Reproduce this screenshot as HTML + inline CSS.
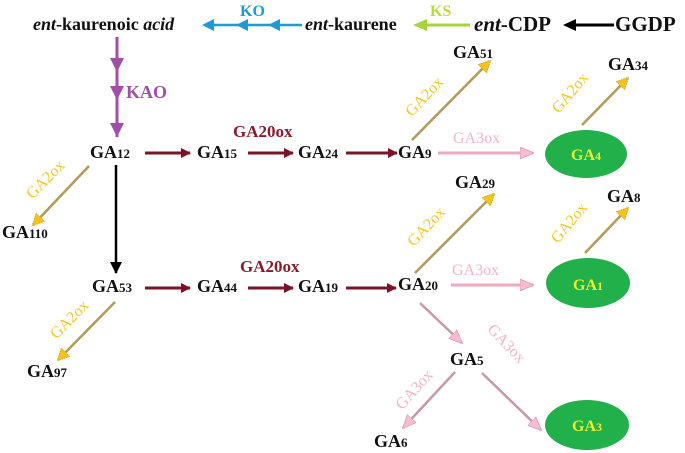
<!DOCTYPE html>
<html><head><meta charset="utf-8"><style>
html,body{margin:0;padding:0;background:#fff;}
svg{display:block;font-family:"Liberation Serif","DejaVu Serif",serif;}
svg text{font-family:"Liberation Serif","DejaVu Serif",serif;}
.n{font-weight:bold;font-size:18px;fill:#111;}
.s{font-size:13px;}
.y{fill:#f6c623;font-size:16px;}
.p{fill:#f5b4c8;font-size:16px;}
.r{fill:#8b1a2b;font-weight:bold;font-size:17px;}
</style></head><body>
<svg width="685" height="453" viewBox="0 0 685 453" xmlns="http://www.w3.org/2000/svg" font-family="Liberation Serif, serif">
<defs>
<marker id="red" markerWidth="10" markerHeight="10" refX="9" refY="5" orient="auto" markerUnits="userSpaceOnUse"><polygon points="0,0 10,5 0,10" fill="#7d1326"/></marker>
<marker id="blk" markerWidth="12" markerHeight="12" refX="11" refY="6" orient="auto" markerUnits="userSpaceOnUse"><polygon points="0,0 12,6 0,12" fill="#000"/></marker>
<marker id="yel" markerWidth="12" markerHeight="12" refX="11" refY="6" orient="auto" markerUnits="userSpaceOnUse"><polygon points="0,0 12,6 0,12" fill="#f7c21c" stroke="#c99a10" stroke-width="0.8" stroke-dasharray="1.5,1"/></marker>
<marker id="pnk" markerWidth="14" markerHeight="12" refX="13" refY="6" orient="auto" markerUnits="userSpaceOnUse"><polygon points="0,0 14,6 0,12" fill="#f7bccd" stroke="#d88aa2" stroke-width="0.6"/></marker>
</defs>

<!-- top row -->
<text x="33" y="30" class="n" font-family="Liberation Serif, serif"><tspan font-style="italic">ent</tspan>-kaurenoic <tspan font-style="italic">acid</tspan></text>
<text x="240" y="16" fill="#1e9ad8" font-weight="bold" font-size="16">KO</text>
<line x1="302" y1="25" x2="206" y2="25" stroke="#1e9ad8" stroke-width="2.5"/>
<polygon points="202,25 214,19 214,31" fill="#1e9ad8"/>
<polygon points="236,25 248,19 248,31" fill="#1e9ad8"/>
<polygon points="268,25 280,19 280,31" fill="#1e9ad8"/>
<text x="305" y="30" class="n"><tspan font-style="italic">ent</tspan>-kaurene</text>
<text x="430" y="16" fill="#b5dc3c" font-weight="bold" font-size="16">KS</text>
<line x1="470" y1="25" x2="425" y2="25" stroke="#a7d43a" stroke-width="3"/>
<polygon points="413,25 427,19 427,31" fill="#a7d43a"/>
<text x="474" y="31" font-size="21" font-weight="bold" fill="#111"><tspan font-style="italic">ent</tspan>-CDP</text>
<line x1="614" y1="25" x2="574" y2="25" stroke="#000" stroke-width="3"/>
<polygon points="563,25 576,19 576,31" fill="#000"/>
<text x="615" y="31" font-size="21" font-weight="bold" fill="#111">GGDP</text>

<!-- KAO -->
<line x1="117" y1="37" x2="117" y2="137" stroke="#a04fa8" stroke-width="3"/>
<polygon points="110,58 124,58 117,72" fill="#a04fa8"/>
<polygon points="110,86 124,86 117,100" fill="#a04fa8"/>
<polygon points="110,123 124,123 117,137" fill="#a04fa8"/>
<text x="126" y="98" fill="#a04fa8" font-weight="bold" font-size="18">KAO</text>

<!-- row 1 -->
<text x="90" y="158" class="n">GA<tspan class="s">12</tspan></text>
<line x1="145" y1="153" x2="190" y2="153" stroke="#7d1326" stroke-width="3" marker-end="url(#red)"/>
<text x="197" y="158" class="n">GA<tspan class="s">15</tspan></text>
<text x="233" y="137" class="r">GA20ox</text>
<line x1="248" y1="153" x2="293" y2="153" stroke="#7d1326" stroke-width="3" marker-end="url(#red)"/>
<text x="298" y="158" class="n">GA<tspan class="s">24</tspan></text>
<line x1="346" y1="153" x2="397" y2="153" stroke="#7d1326" stroke-width="3" marker-end="url(#red)"/>
<text x="398" y="158" class="n">GA<tspan class="s">9</tspan></text>
<text x="453" y="143" class="p">GA3ox</text>
<line x1="438" y1="153" x2="533" y2="153" stroke="#f0a8bf" stroke-width="3" marker-end="url(#pnk)"/>
<ellipse cx="586" cy="154" rx="41" ry="24" fill="#22b04a"/>
<text x="586" y="160" text-anchor="middle" fill="#e8f030" font-weight="bold" font-size="16">GA<tspan font-size="12">4</tspan></text>

<line x1="412" y1="140" x2="490" y2="61" stroke="#b39a5a" stroke-width="2.5" marker-end="url(#yel)"/>
<text x="453" y="58" class="n">GA<tspan class="s">51</tspan></text>
<text x="428" y="100" class="y" text-anchor="middle" transform="rotate(-47 428 100)">GA2ox</text>
<line x1="582" y1="125" x2="628" y2="78" stroke="#b39a5a" stroke-width="2.5" marker-end="url(#yel)"/>
<text x="608" y="70" class="n">GA<tspan class="s">34</tspan></text>
<text x="574" y="96" class="y" text-anchor="middle" transform="rotate(-50 574 96)">GA2ox</text>

<line x1="89" y1="166" x2="33" y2="225" stroke="#b39a5a" stroke-width="2.5" marker-end="url(#yel)"/>
<text x="49" y="183" class="y" text-anchor="middle" transform="rotate(-45 49 183)">GA2ox</text>
<text x="2" y="238" class="n">GA<tspan class="s">110</tspan></text>

<line x1="116" y1="165" x2="116" y2="273" stroke="#000" stroke-width="2.5" marker-end="url(#blk)"/>

<!-- row 2 -->
<text x="92" y="292" class="n">GA<tspan class="s">53</tspan></text>
<line x1="145" y1="288" x2="190" y2="288" stroke="#7d1326" stroke-width="3" marker-end="url(#red)"/>
<text x="197" y="292" class="n">GA<tspan class="s">44</tspan></text>
<text x="240" y="272" class="r">GA20ox</text>
<line x1="248" y1="288" x2="293" y2="288" stroke="#7d1326" stroke-width="3" marker-end="url(#red)"/>
<text x="298" y="292" class="n">GA<tspan class="s">19</tspan></text>
<line x1="346" y1="288" x2="396" y2="288" stroke="#7d1326" stroke-width="3" marker-end="url(#red)"/>
<text x="398" y="290" class="n">GA<tspan class="s">20</tspan></text>
<text x="452" y="275" class="p">GA3ox</text>
<line x1="451" y1="285" x2="533" y2="285" stroke="#f0a8bf" stroke-width="3" marker-end="url(#pnk)"/>
<ellipse cx="588" cy="283" rx="42" ry="25" fill="#22b04a"/>
<text x="588" y="290" text-anchor="middle" fill="#e8f030" font-weight="bold" font-size="16">GA<tspan font-size="12">1</tspan></text>

<line x1="415" y1="273" x2="494" y2="194" stroke="#b39a5a" stroke-width="2.5" marker-end="url(#yel)"/>
<text x="455" y="188" class="n">GA<tspan class="s">29</tspan></text>
<text x="430" y="230" class="y" text-anchor="middle" transform="rotate(-47 430 230)">GA2ox</text>
<line x1="585" y1="253" x2="628" y2="208" stroke="#b39a5a" stroke-width="2.5" marker-end="url(#yel)"/>
<text x="607" y="202" class="n">GA<tspan class="s">8</tspan></text>
<text x="573" y="226" class="y" text-anchor="middle" transform="rotate(-50 573 226)">GA2ox</text>

<line x1="115" y1="302" x2="58" y2="360" stroke="#b39a5a" stroke-width="2.5" marker-end="url(#yel)"/>
<text x="73" y="323" class="y" text-anchor="middle" transform="rotate(-45 73 323)">GA2ox</text>
<text x="27" y="377" class="n">GA<tspan class="s">97</tspan></text>

<!-- GA5 branch -->
<line x1="420" y1="303" x2="462" y2="343" stroke="#c898a8" stroke-width="2.5" marker-end="url(#pnk)"/>
<text x="450" y="365" class="n">GA<tspan class="s">5</tspan></text>
<line x1="455" y1="372" x2="403" y2="428" stroke="#c898a8" stroke-width="2.5" marker-end="url(#pnk)"/>
<text x="418" y="393" class="p" text-anchor="middle" transform="rotate(-48 418 393)">GA3ox</text>
<line x1="482" y1="373" x2="541" y2="430" stroke="#c898a8" stroke-width="2.5" marker-end="url(#pnk)"/>
<text x="503" y="347" class="p" text-anchor="middle" transform="rotate(46 503 347)">GA3ox</text>
<text x="374" y="447" class="n">GA<tspan class="s">6</tspan></text>
<ellipse cx="587" cy="425" rx="42" ry="25" fill="#22b04a"/>
<text x="587" y="431" text-anchor="middle" fill="#e8f030" font-weight="bold" font-size="16">GA<tspan font-size="12">3</tspan></text>
</svg>
</body></html>
